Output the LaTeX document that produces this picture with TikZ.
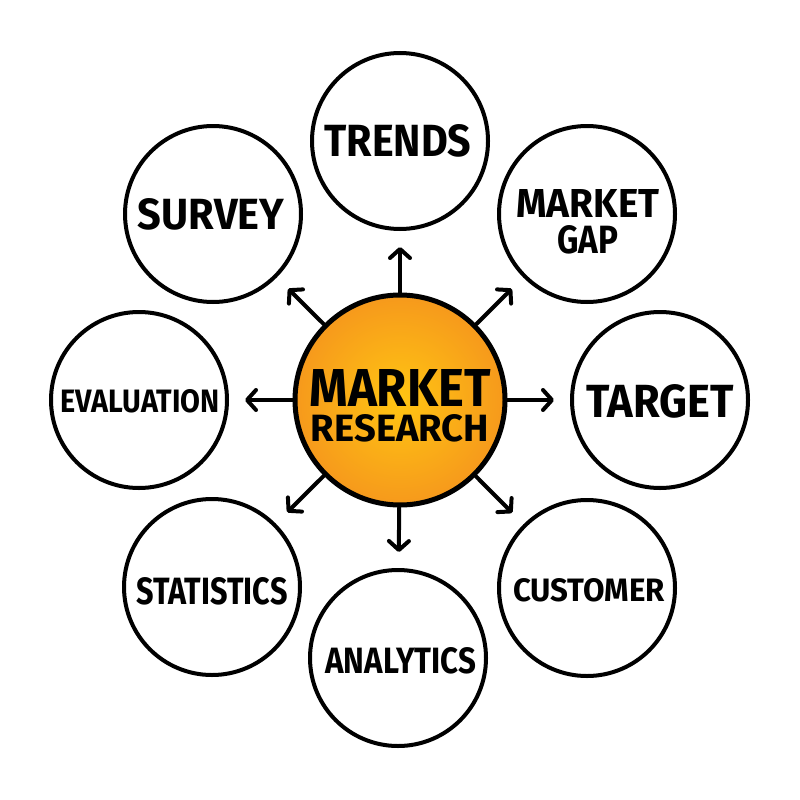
\documentclass[tikz,border=0pt]{standalone}
\usepackage{fontspec}
\setmainfont{Fira Sans}
\usepackage{graphicx}
\usetikzlibrary{arrows.meta}
\definecolor{mrin}{HTML}{FFC512}
\definecolor{mrout}{HTML}{F6991C}
\newcommand\fitt[3]{\resizebox{#1pt}{#2pt}{\bfseries #3}}
\tikzset{
  bubble/.style={circle, draw=black, line width=4pt, minimum size=176pt, inner sep=0pt, fill=white},
  hub/.style={circle, draw=black, line width=5pt, minimum size=210pt, inner sep=0pt, inner color=mrin, outer color=mrout},
  lbl/.style={inner sep=0pt, outer sep=0pt, text=black, align=center},
  arr/.style={line width=4pt, line cap=round, line join=round, -{Straight Barb[length=9pt,width=20pt,line cap=round,line join=round]}, shorten >=16pt}
}
\begin{document}
\begin{tikzpicture}[x=1pt,y=-1pt]
\useasboundingbox (0,0) rectangle (800,800);
\fill[white] (0,0) rectangle (800,800);
% circles
\node[hub] (c) at (400,400) {};
\node[bubble] (trends) at (400,141) {};
\node[bubble] (gap) at (587,214) {};
\node[bubble] (target) at (660,400) {};
\node[bubble] (customer) at (587,588) {};
\node[bubble] (analytics) at (398,658) {};
\node[bubble] (statistics) at (212,587) {};
\node[bubble] (evaluation) at (139,400) {};
\node[bubble] (survey) at (213,214) {};
% arrows
\foreach \t in {trends,gap,target,customer,analytics,statistics,evaluation,survey}
  \draw[arr] (c) -- (\t);
% labels
\node[lbl] (tMR) at (400,406) {\fitt{181}{37}{MARKET}\\[7pt]\fitt{178}{27}{RESEARCH}};
\node[lbl] (tTR) at (398,141) {\fitt{147}{32}{TRENDS}};
\node[lbl] (tMG) at (588,221.5) {\fitt{143}{28}{MARKET}\\[7pt]\fitt{61}{28}{GAP}};
\node[lbl] (tTA) at (660,401) {\fitt{147}{33}{TARGET}};
\node[lbl] (tCU) at (589,590) {\fitt{152}{23}{CUSTOMER}};
\node[lbl] (tAN) at (401,661) {\fitt{151}{26}{ANALYTICS}};
\node[lbl] (tST) at (212,591) {\fitt{151}{27}{STATISTICS}};
\node[lbl] (tEV) at (140,401) {\fitt{159}{23}{EVALUATION}};
\node[lbl] (tSU) at (211,214) {\fitt{146}{31}{SURVEY}};
\end{tikzpicture}
\end{document}
